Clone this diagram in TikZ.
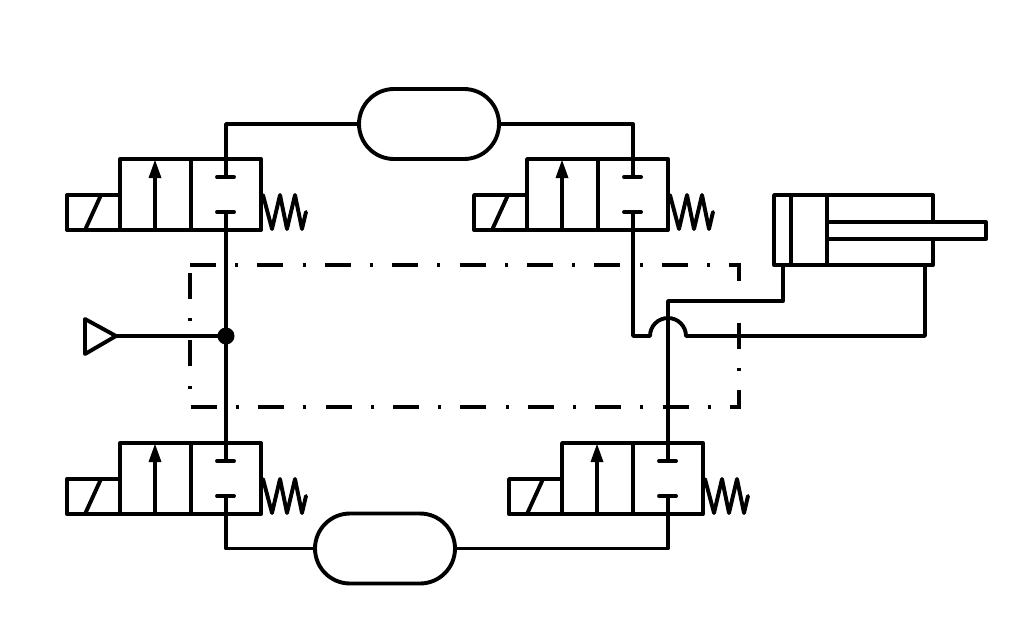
\documentclass[tikz,border=0pt]{standalone}
\usetikzlibrary{shapes.misc}
\tikzset{
  x=1pt,y=-1pt,
  wire/.style={line width=3.9pt,line join=round,line cap=round,draw=black},
  tank/.style={wire,rounded rectangle,minimum width=140pt,minimum height=70pt,inner sep=0pt,outer sep=0pt,fill=white},
  dot/.style={circle,fill=black,draw=none,minimum size=17pt,inner sep=0pt},
  pilot/.style={line width=3.4pt,dash pattern=on 26pt off 19.2pt on 3pt off 19.2pt},
  pics/valve/.style={code={
    \draw[wire] (0,0) rectangle (141,71);
    \draw[wire] (71,0) -- (71,71);
    \draw[wire] (0,36) -- (-53,36) -- (-53,71) -- (0,71);
    \draw[wire] (-35,71) -- (-19,36);
    \draw[wire] (35,71) -- (35,16);
    \fill (35,1) -- (41.5,19) -- (28.5,19) -- cycle;
    \draw[wire] (97,18) -- (114,18);
    \draw[wire] (97,53) -- (114,53);
    \draw[wire] (143,36) -- (152,70) -- (160,36) -- (167,70) -- (175,36) -- (182,70) -- (186,53);
    \coordinate (-top) at (106,18);
    \coordinate (-bot) at (106,53);
  }}
}
\begin{document}
\begin{tikzpicture}
\useasboundingbox (0,0) rectangle (1024,638);
\fill[white] (0,0) rectangle (1024,638);
% control boundary
\draw[pilot] (190,265) -- (739,265) -- (739,407) -- (190,407) -- cycle;
% valves
\pic (va) at (120,159) {valve};
\pic (vb) at (527,159) {valve};
\pic (vc) at (120,443) {valve};
\pic (vd) at (562,443) {valve};
% reservoirs
\node[tank] (ta) at (429,124) {};
\node[tank] (tb) at (385,548.5) {};
% source
\coordinate (src) at (116,336);
\draw[wire] (85,319) -- (src) -- (85,354) -- cycle;
\node[dot] (jn) at (226,336) {};
% cylinder
\draw[wire] (774,195) rectangle (933,265);
\draw[wire] (791,195) -- (791,265);
\draw[wire] (827,195) -- (827,265);
\draw[wire,fill=white] (827,222) rectangle (986,239);
\coordinate (pa) at (783,265);
\coordinate (pb) at (925,265);
\coordinate (ba) at (668,301);
\coordinate (hr) at (686,336);
\coordinate (hl) at (650,336);
\coordinate (bb) at (633,336);
% connectors
\draw[wire] (va-top) |- (ta.west);
\draw[wire] (ta.east) -| (vb-top);
\draw[wire] (vc-bot) |- (tb.west);
\draw[wire] (tb.east) -| (vd-bot);
\draw[wire] (va-bot) -- (jn) -- (vc-top);
\draw[wire] (src) -- (jn);
\draw[wire] (pa) |- (ba) -- (vd-top);
\draw[wire] (pb) |- (hr) arc[start angle=0,end angle=-180,radius=18] -- (bb) -- (vb-bot);
\end{tikzpicture}
\end{document}
